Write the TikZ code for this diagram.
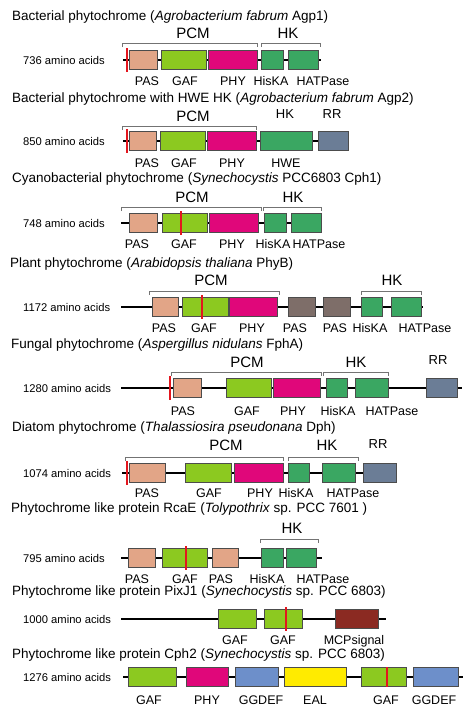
\documentclass[tikz,border=0pt]{standalone}
\usepackage{fontspec}
\setmainfont{Liberation Sans}
\usetikzlibrary{positioning}
\definecolor{pascol}{HTML}{E2A587}
\definecolor{gafcol}{HTML}{8CC920}
\definecolor{phycol}{HTML}{E0077A}
\definecolor{hkcol}{HTML}{3AA762}
\definecolor{rrcol}{HTML}{6B7D96}
\definecolor{pasbr}{HTML}{7E6E69}
\definecolor{mcpcol}{HTML}{8B2A22}
\definecolor{ggcol}{HTML}{6D8FCA}
\definecolor{ealcol}{HTML}{FFEB00}
\definecolor{chromred}{HTML}{E3161E}
\tikzset{
  dom/.style={draw=black!70, line width=0.6pt, anchor=west, minimum height=19pt, inner sep=0pt},
  bbone/.style={line width=1.9pt, black},
  redbar/.style={fill=chromred, minimum width=2.4pt, minimum height=24pt, inner sep=0pt},
  brk/.style={draw=black!55, line width=0.8pt},
  ttl/.style={anchor=base west, font=\fontsize{13.5}{15}\selectfont, inner sep=0pt},
  aalbl/.style={anchor=west, font=\fontsize{11.2}{13}\selectfont, inner sep=0pt},
  dlbl/.style={anchor=base, font=\fontsize{12.5}{14}\selectfont, inner sep=0pt},
  grpbig/.style={anchor=base, font=\fontsize{15}{17}\selectfont, inner sep=0pt},
  grpsm/.style={anchor=base, font=\fontsize{13}{15}\selectfont, inner sep=0pt},
}
\begin{document}
\begin{tikzpicture}[x=1pt, y=-1pt]
  \useasboundingbox (0,0) rectangle (474,715);

  % Agp1
  \node[ttl] (t1) at (12,20) {Bacterial phytochrome (\textit{Agrobacterium fabrum} Agp1)};
  \node[aalbl] (aa1) at (23,60) {736 amino acids};
  \coordinate (s1) at (123,60);
  \coordinate (e1) at (321,60);
  \draw[bbone] (s1) -- (e1);
  \node[dom, fill=pascol, minimum width=28] (pas1) at (129,60) {};
  \node[dom, fill=gafcol, minimum width=45] (gaf1) at (161,60) {};
  \node[dom, fill=phycol, minimum width=49] (phy1) at (208,60) {};
  \node[dom, fill=hkcol, minimum width=22] (his1) at (261,60) {};
  \node[dom, fill=hkcol, minimum width=30] (hat1) at (288,60) {};
  \node[redbar] (c1) at (127,60) {};
  \draw[brk] (122,47) |- (257,43) -- (257,47);
  \draw[brk] (261,47) |- (320,43) -- (320,47);
  \node[grpbig] (pcm1) at (193,38) {PCM};
  \node[grpbig] (hk1) at (288,38) {HK};
  \node[dlbl] at (147,85) {PAS};
  \node[dlbl] at (185,85) {GAF};
  \node[dlbl] at (233,85) {PHY};
  \node[dlbl] at (271,85) {HisKA};
  \node[dlbl] at (323,85) {HATPase};

  % Agp2
  \node[ttl] (t2) at (12,102) {Bacterial phytochrome with HWE HK (\textit{Agrobacterium fabrum} Agp2)};
  \node[aalbl] (aa2) at (23,141) {850 amino acids};
  \coordinate (s2) at (123,141);
  \coordinate (e2) at (349,141);
  \draw[bbone] (s2) -- (e2);
  \node[dom, fill=pascol, minimum width=27] (pas2) at (129,141) {};
  \node[dom, fill=gafcol, minimum width=45] (gaf2) at (160,141) {};
  \node[dom, fill=phycol, minimum width=49] (phy2) at (207,141) {};
  \node[dom, fill=hkcol, minimum width=52] (hwe2) at (260,141) {};
  \node[dom, fill=rrcol, minimum width=30] (rr2) at (318,141) {};
  \node[redbar] (c2) at (127,141) {};
  \draw[brk] (122,130) |- (256,126) -- (256,130);
  \node[grpbig] (pcm2) at (193,121) {PCM};
  \node[grpsm] (hk2) at (285,118) {HK};
  \node[grpsm] (rrl2) at (332,118) {RR};
  \node[dlbl] at (147,167) {PAS};
  \node[dlbl] at (184,167) {GAF};
  \node[dlbl] at (232,167) {PHY};
  \node[dlbl] at (286,167) {HWE};

  % Cph1
  \node[ttl] (t3) at (12,182) {Cyanobacterial phytochrome (\textit{Synechocystis} PCC6803 Cph1)};
  \node[aalbl] (aa3) at (23,223) {748 amino acids};
  \coordinate (s3) at (121,223);
  \coordinate (e3) at (322,223);
  \draw[bbone] (s3) -- (e3);
  \node[dom, fill=pascol, minimum width=28] (pas3) at (129,223) {};
  \node[dom, fill=gafcol, minimum width=45] (gaf3) at (162,223) {};
  \node[dom, fill=phycol, minimum width=49] (phy3) at (209,223) {};
  \node[dom, fill=hkcol, minimum width=22] (his3) at (264,223) {};
  \node[dom, fill=hkcol, minimum width=30] (hat3) at (291,223) {};
  \node[redbar] (c3) at (181,223) {};
  \draw[brk] (121,211) |- (261,207) -- (261,211);
  \draw[brk] (263,211) |- (321,207) -- (321,211);
  \node[grpbig] (pcm3) at (192,202) {PCM};
  \node[grpbig] (hk3) at (293,202) {HK};
  \node[dlbl] at (137,248) {PAS};
  \node[dlbl] at (184,248) {GAF};
  \node[dlbl] at (232,248) {PHY};
  \node[dlbl] at (273,248) {HisKA};
  \node[dlbl] at (319,248) {HATPase};

  % PhyB
  \node[ttl] (t4) at (10,267) {Plant phytochrome (\textit{Arabidopsis thaliana} PhyB)};
  \node[aalbl] (aa4) at (23,307) {1172 amino acids};
  \coordinate (s4) at (121,307);
  \coordinate (e4) at (423,307);
  \draw[bbone] (s4) -- (e4);
  \node[dom, fill=pascol, minimum width=26] (pas4) at (152,307) {};
  \node[dom, fill=gafcol, minimum width=46] (gaf4) at (182,307) {};
  \node[dom, fill=phycol, minimum width=48] (phy4) at (229,307) {};
  \node[dom, fill=pasbr, minimum width=27] (pasb4) at (288,307) {};
  \node[dom, fill=pasbr, minimum width=27] (pasc4) at (323,307) {};
  \node[dom, fill=hkcol, minimum width=21] (his4) at (361,307) {};
  \node[dom, fill=hkcol, minimum width=30] (hat4) at (391,307) {};
  \node[redbar] (c4) at (202,307) {};
  \draw[brk] (149,295) |- (279,291) -- (279,295);
  \draw[brk] (361,295) |- (421,291) -- (421,295);
  \node[grpbig] (pcm4) at (211,285) {PCM};
  \node[grpbig] (hk4) at (392,285) {HK};
  \node[dlbl] at (164,332) {PAS};
  \node[dlbl] at (204,332) {GAF};
  \node[dlbl] at (252,332) {PHY};
  \node[dlbl] at (295,332) {PAS};
  \node[dlbl] at (335,332) {PAS};
  \node[dlbl] at (370,332) {HisKA};
  \node[dlbl] at (425,332) {HATPase};

  % FphA
  \node[ttl] (t5) at (11,348) {Fungal phytochrome (\textit{Aspergillus nidulans} FphA)};
  \node[aalbl] (aa5) at (23,388) {1280 amino acids};
  \coordinate (s5) at (121,388);
  \coordinate (e5) at (462,388);
  \draw[bbone] (s5) -- (e5);
  \node[dom, fill=pascol, minimum width=28] (pas5) at (173,388) {};
  \node[dom, fill=gafcol, minimum width=45] (gaf5) at (226,388) {};
  \node[dom, fill=phycol, minimum width=47] (phy5) at (273,388) {};
  \node[dom, fill=hkcol, minimum width=21] (his5) at (326,388) {};
  \node[dom, fill=hkcol, minimum width=33] (hat5) at (355,388) {};
  \node[dom, fill=rrcol, minimum width=31] (rr5) at (426,388) {};
  \node[redbar] (c5) at (170,388) {};
  \draw[brk] (171,376) |- (321,372) -- (321,376);
  \draw[brk] (323,376) |- (388,372) -- (388,376);
  \node[grpbig] (pcm5) at (247,367) {PCM};
  \node[grpbig] (hk5) at (356,367) {HK};
  \node[grpsm] (rrl5) at (438,364) {RR};
  \node[dlbl] at (183,415) {PAS};
  \node[dlbl] at (247,415) {GAF};
  \node[dlbl] at (293,415) {PHY};
  \node[dlbl] at (338,415) {HisKA};
  \node[dlbl] at (392,415) {HATPase};

  % Dph
  \node[ttl] (t6) at (12,431) {Diatom phytochrome (\textit{Thalassiosira pseudonana} Dph)};
  \node[aalbl] (aa6) at (23,473) {1074 amino acids};
  \coordinate (s6) at (122,473);
  \coordinate (e6) at (397,473);
  \draw[bbone] (s6) -- (e6);
  \node[dom, fill=pascol, minimum width=36] (pas6) at (129,473) {};
  \node[dom, fill=gafcol, minimum width=46] (gaf6) at (185,473) {};
  \node[dom, fill=phycol, minimum width=49] (phy6) at (234,473) {};
  \node[dom, fill=hkcol, minimum width=21] (his6) at (288,473) {};
  \node[dom, fill=hkcol, minimum width=33] (hat6) at (322,473) {};
  \node[dom, fill=rrcol, minimum width=33] (rr6) at (363,473) {};
  \node[redbar] (c6) at (127,473) {};
  \draw[brk] (125,461) |- (283,457) -- (283,461);
  \draw[brk] (288,461) |- (358,457) -- (358,461);
  \node[grpbig] (pcm6) at (226,450) {PCM};
  \node[grpbig] (hk6) at (327,450) {HK};
  \node[grpsm] (rrl6) at (378,448) {RR};
  \node[dlbl] at (147,497) {PAS};
  \node[dlbl] at (209,497) {GAF};
  \node[dlbl] at (260,497) {PHY};
  \node[dlbl] at (296,497) {HisKA};
  \node[dlbl] at (353,497) {HATPase};

  % RcaE
  \node[ttl] (t7) at (11,512) {Phytochrome like protein RcaE (\textit{Tolypothrix} sp. PCC 7601 )};
  \node[aalbl] (aa7) at (23,558) {795 amino acids};
  \coordinate (s7) at (121,558);
  \coordinate (e7) at (322,558);
  \draw[bbone] (s7) -- (e7);
  \node[dom, fill=pascol, minimum width=27] (pas7) at (128,558) {};
  \node[dom, fill=gafcol, minimum width=45] (gaf7) at (162,558) {};
  \node[dom, fill=pascol, minimum width=26] (pasb7) at (212,558) {};
  \node[dom, fill=hkcol, minimum width=22] (his7) at (261,558) {};
  \node[dom, fill=hkcol, minimum width=30] (hat7) at (286,558) {};
  \node[redbar] (c7) at (186,558) {};
  \draw[brk] (260,543) |- (318,539) -- (318,543);
  \node[grpbig] (hk7) at (292,533) {HK};
  \node[dlbl] at (137,583) {PAS};
  \node[dlbl] at (185,583) {GAF};
  \node[dlbl] at (221,583) {PAS};
  \node[dlbl] at (267,583) {HisKA};
  \node[dlbl] at (323,583) {HATPase};

  % PixJ1
  \node[ttl] (t8) at (12,595) {Phytochrome like protein PixJ1 (\textit{Synechocystis} sp. PCC 6803)};
  \node[aalbl] (aa8) at (23,619) {1000 amino acids};
  \coordinate (s8) at (121,619);
  \coordinate (e8) at (386,619);
  \draw[bbone] (s8) -- (e8);
  \node[dom, fill=gafcol, minimum width=38] (gaf8) at (218,619) {};
  \node[dom, fill=gafcol, minimum width=38] (gafb8) at (264,619) {};
  \node[dom, fill=mcpcol, minimum width=43] (mcp8) at (335,619) {};
  \node[redbar] (c8) at (286,619) {};
  \node[dlbl] at (235,644) {GAF};
  \node[dlbl] at (283,644) {GAF};
  \node[dlbl] at (354,644) {MCPsignal};

  % Cph2
  \node[ttl] (t9) at (12,658) {Phytochrome like protein Cph2 (\textit{Synechocystis} sp. PCC 6803)};
  \node[aalbl] (aa9) at (23,677) {1276 amino acids};
  \coordinate (s9) at (123,677);
  \coordinate (e9) at (463,677);
  \draw[bbone] (s9) -- (e9);
  \node[dom, fill=gafcol, minimum width=48] (gaf9) at (128,677) {};
  \node[dom, fill=phycol, minimum width=42] (phy9) at (186,677) {};
  \node[dom, fill=ggcol, minimum width=43] (gg9) at (235,677) {};
  \node[dom, fill=ealcol, minimum width=62] (eal9) at (284,677) {};
  \node[dom, fill=gafcol, minimum width=45] (gafb9) at (361,677) {};
  \node[dom, fill=ggcol, minimum width=45] (ggb9) at (413,677) {};
  \node[redbar, minimum height=20] (c9) at (387,677) {};
  \node[dlbl] at (149,704) {GAF};
  \node[dlbl] at (207,704) {PHY};
  \node[dlbl] at (261,704) {GGDEF};
  \node[dlbl] at (315,704) {EAL};
  \node[dlbl] at (386,704) {GAF};
  \node[dlbl] at (434,704) {GGDEF};
\end{tikzpicture}
\end{document}
